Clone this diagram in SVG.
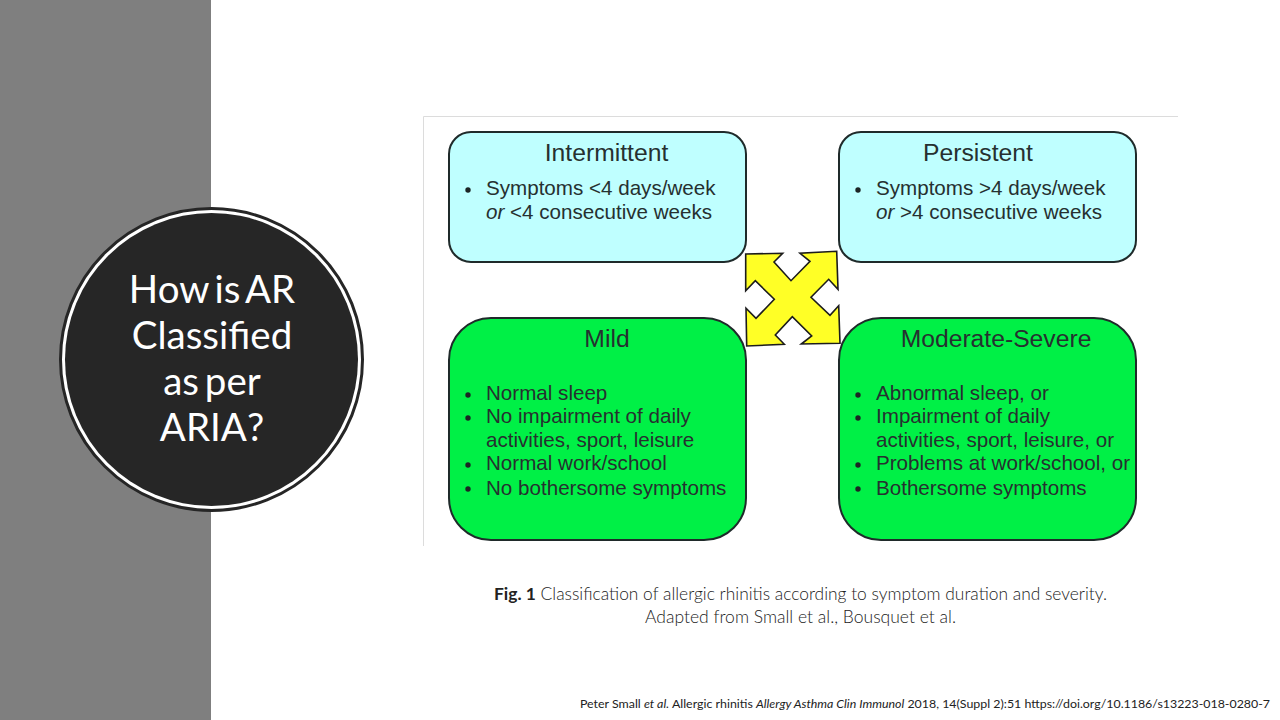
<svg xmlns="http://www.w3.org/2000/svg" width="1280" height="720" viewBox="0 0 1280 720">
<style>
.box{stroke:#1f2a2a;stroke-width:2}
.blue{fill:#bfffff}
.green{fill:#00f046}
.dot{fill:#1c2424}
text{font-family:"Liberation Sans",Arial,sans-serif;fill:#263030}
.h{font-size:24.700px;text-anchor:middle}
.b{font-size:20.600px}
.c{font-family:Lato,"Open Sans",sans-serif;font-size:38.500px;fill:#fff;text-anchor:middle;word-spacing:-4px}
.cap{font-family:Lato,"Open Sans",sans-serif;font-size:17px;font-weight:300;fill:#222}
.ref{font-family:Lato,"Open Sans",sans-serif;font-size:12px;fill:#222}
</style>
<rect width="1280" height="720" fill="#fff"/>
<rect id="sidebar" width="211" height="720" fill="#7f7f7f"/>
<g id="title">
<circle cx="211.5" cy="359.5" r="151" fill="#fff" stroke="#262626" stroke-width="3"/>
<circle cx="211.5" cy="359.5" r="146.500" fill="#262626"/>
<text class="c" x="212" y="303">How is AR</text>
<text class="c" x="212" y="349">Classified</text>
<text class="c" x="212" y="395">as per</text>
<text class="c" x="212" y="441">ARIA?</text>
</g>
<g id="figure-frame">
<path d="M423.5 546V116.5H1178" fill="none" stroke="#dcdcdc" stroke-width="1"/>
</g>
<g id="connectors">
<polygon points="745.7,254 782.7,253.3 774,262 791,280.7 810,261.3 800,253.3 836.7,251.3 838,289.3 828.7,279.3 811,297.3 830,315.3 838.7,305.7 840,343.3 801.3,344 811.7,336 792.3,316.7 775.3,335 784.3,344.3 746.7,346 746,308.3 756,318.3 774.3,299.3 755.3,280.7 745.7,290.7" fill="#ffff26" stroke="#1c1c1c" stroke-width="1.600"/>
</g>
<g id="intermittent">
<rect class="box blue" x="449" y="132" width="297" height="130" rx="22"/>
<text class="h" x="606.500" y="161">Intermittent</text>
<circle class="dot" cx="468" cy="190" r="2.700"/>
<text class="b" x="486" y="195">Symptoms &lt;4 days/week</text>
<text class="b" x="486" y="219"><tspan font-style="italic">or</tspan> &lt;4 consecutive weeks</text>
</g>
<g id="persistent">
<rect class="box blue" x="839" y="132" width="297" height="130" rx="22"/>
<text class="h" x="978" y="161">Persistent</text>
<circle class="dot" cx="858" cy="190" r="2.700"/>
<text class="b" x="876" y="195">Symptoms &gt;4 days/week</text>
<text class="b" x="876" y="219"><tspan font-style="italic">or</tspan> &gt;4 consecutive weeks</text>
</g>
<g id="mild">
<rect class="box green" x="449" y="318" width="297" height="222" rx="42"/>
<text class="h" x="607" y="347">Mild</text>
<circle class="dot" cx="468" cy="395" r="2.700"/>
<circle class="dot" cx="468" cy="418" r="2.700"/>
<circle class="dot" cx="468" cy="465" r="2.700"/>
<circle class="dot" cx="468" cy="489" r="2.700"/>
<text class="b" x="486" y="400">Normal sleep</text>
<text class="b" x="486" y="423">No impairment of daily</text>
<text class="b" x="486" y="447">activities, sport, leisure</text>
<text class="b" x="486" y="470">Normal work/school</text>
<text class="b" x="486" y="495">No bothersome symptoms</text>
</g>
<g id="moderate-severe">
<rect class="box green" x="839" y="318" width="297" height="222" rx="42"/>
<text class="h" x="996" y="347">Moderate-Severe</text>
<circle class="dot" cx="858" cy="395" r="2.700"/>
<circle class="dot" cx="858" cy="418" r="2.700"/>
<circle class="dot" cx="858" cy="465" r="2.700"/>
<circle class="dot" cx="858" cy="489" r="2.700"/>
<text class="b" x="876" y="400">Abnormal sleep, or</text>
<text class="b" x="876" y="423">Impairment of daily</text>
<text class="b" x="876" y="447">activities, sport, leisure, or</text>
<text class="b" x="876" y="470">Problems at work/school, or</text>
<text class="b" x="876" y="495">Bothersome symptoms</text>
</g>
<g id="caption">
<text class="cap" x="494" y="600" textLength="613" lengthAdjust="spacingAndGlyphs"><tspan font-weight="700">Fig. 1</tspan> Classification of allergic rhinitis according to symptom duration and severity.</text>
<text class="cap" x="645" y="623" textLength="311" lengthAdjust="spacingAndGlyphs">Adapted from Small et al., Bousquet et al.</text>
</g>
<g id="citation">
<text class="ref" x="580" y="708" textLength="690" lengthAdjust="spacingAndGlyphs">Peter Small <tspan font-style="italic">et al.</tspan> Allergic rhinitis <tspan font-style="italic">Allergy Asthma Clin Immunol</tspan> 2018, 14(Suppl 2):51 https://doi.org/10.1186/s13223-018-0280-7</text>
</g>
</svg>
